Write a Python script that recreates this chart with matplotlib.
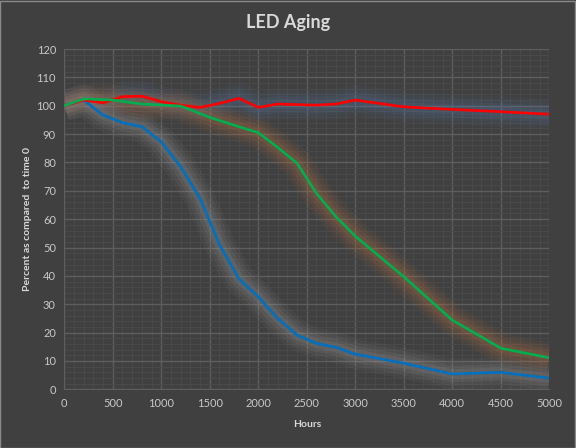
import numpy as np
import matplotlib.pyplot as plt
from matplotlib.patches import Rectangle
from matplotlib.ticker import MultipleLocator

# data (hours, percent of time 0)
blue_x = [0, 200, 400, 600, 800, 1000, 1200, 1400, 1600, 1800, 2000, 2200, 2400, 2600, 2800, 3000, 3500, 4000, 4500, 5000]
blue_y = [100, 102, 96.7, 94, 92.6, 87.3, 78.5, 67.3, 51, 39, 32.6, 25, 19.1, 16.2, 14.8, 12.4, 9.2, 5.4, 6.0, 3.9]

green_x = [0, 200, 500, 800, 1200, 1500, 1800, 2000, 2200, 2400, 2600, 2800, 3000, 3500, 4000, 4500, 5000]
green_y = [100, 102.4, 102, 100.6, 99.9, 95.9, 92.6, 90.5, 85.3, 79.7, 69.1, 60.9, 54, 39.7, 24.4, 14.5, 11.1]

red_x = [0, 200, 400, 600, 800, 1000, 1200, 1400, 1600, 1800, 2000, 2200, 2600, 2800, 3000, 3500, 4000, 4500, 5000]
red_y = [100, 102, 101, 103.2, 103.4, 101.4, 100.2, 99.4, 100.8, 102.6, 99.4, 100.6, 100.2, 100.6, 102, 99.6, 98.7, 97.9, 97]

bg = '#404040'
plt.rcParams['font.family'] = ['Lato', 'DejaVu Sans']

fig = plt.figure(figsize=(5.76, 4.48), dpi=100, facecolor=bg)
ax = fig.add_axes([0.1116, 0.131, 0.8420, 0.7596], facecolor=bg)

# thin light frame round the chart
fig.patches.append(Rectangle((0.0, 0.0), 0.999, 0.998, transform=fig.transFigure,
                             fill=False, ec='#8a8a8a', lw=1))

# glow effect under each line
series = [
    (blue_x, blue_y, '#0070c0', '#9a9a9a'),
    (red_x, red_y, '#ff0000', '#5478a0'),
    (green_x, green_y, '#00b050', '#b8703f'),
]
for xs, ys, col, glow in series:
    for w, a in [(22, 0.07), (17, 0.09), (12, 0.12), (7, 0.15)]:
        ax.plot(xs, ys, color=glow, lw=w, alpha=a, solid_capstyle='butt',
                solid_joinstyle='round', zorder=2)
for xs, ys, col, glow in series:
    ax.plot(xs, ys, color=col, lw=1.9, zorder=3, solid_joinstyle='round')

ax.set_xlim(0, 5000)
ax.set_ylim(0, 120)
ax.xaxis.set_major_locator(MultipleLocator(500))
ax.xaxis.set_minor_locator(MultipleLocator(100))
ax.yaxis.set_major_locator(MultipleLocator(10))
ax.yaxis.set_minor_locator(MultipleLocator(2))
ax.grid(which='major', color='#5e5e5e', lw=1, zorder=0)
ax.grid(which='minor', color='#4a4a4a', lw=0.7, zorder=0)
ax.set_axisbelow(True)
ax.tick_params(which='both', length=0, colors='#c8c8c8', labelsize=8, pad=6)
for s in ax.spines.values():
    s.set_visible(False)
ax.spines['left'].set_visible(True)
ax.spines['left'].set_color('#5e5e5e')
ax.spines['bottom'].set_visible(True)
ax.spines['bottom'].set_color('#5e5e5e')

ax.set_xlabel('Hours', color='#d9d9d9', fontsize=7.5, fontweight='bold', labelpad=8)
ax.set_ylabel('Percent as compared  to time 0', color='#d9d9d9', fontsize=7.5,
              fontweight='bold', labelpad=3)
fig.text(0.5, 0.95, 'LED Aging', ha='center', va='center', color='#d9d9d9',
         fontsize=13, fontweight='bold')

fig.savefig('out.png', dpi=100, facecolor=bg)
